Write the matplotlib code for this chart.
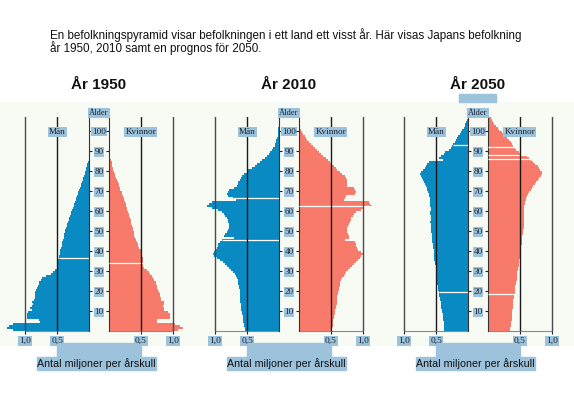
import numpy as np
import matplotlib.pyplot as plt
from matplotlib.patches import Rectangle

plt.rcParams['font.family'] = ['Liberation Sans', 'DejaVu Sans']

# population per one-year age group, millions, age 0 first
men_1950 = [1.20, 1.28, 1.26, 1.19, 0.77, 0.78, 0.97, 0.98, 0.98, 0.96,
            0.90, 0.92, 0.90, 0.88, 0.89, 0.86, 0.85, 0.85, 0.84, 0.84,
            0.83, 0.81, 0.80, 0.79, 0.78, 0.75, 0.74, 0.67, 0.60, 0.56,
            0.54, 0.50, 0.49, 0.49, 0.48, 0.48, 0.47, 0.47, 0.46, 0.46,
            0.46, 0.44, 0.43, 0.43, 0.42, 0.41, 0.40, 0.40, 0.39, 0.38,
            0.37, 0.36, 0.35, 0.34, 0.33, 0.32, 0.31, 0.30, 0.29, 0.28,
            0.27, 0.25, 0.24, 0.23, 0.22, 0.21, 0.20, 0.19, 0.18, 0.17,
            0.15, 0.14, 0.13, 0.12, 0.11, 0.10, 0.09, 0.08, 0.07, 0.06,
            0.05, 0.04, 0.03, 0.03, 0.02]
women_1950 = [1.09, 1.16, 1.12, 1.04, 0.75, 0.76, 0.95, 0.96, 0.95, 0.93,
              0.86, 0.87, 0.85, 0.86, 0.87, 0.82, 0.81, 0.80, 0.80, 0.79,
              0.77, 0.76, 0.75, 0.74, 0.73, 0.70, 0.69, 0.67, 0.65, 0.63,
              0.60, 0.55, 0.54, 0.54, 0.53, 0.53, 0.53, 0.52, 0.52, 0.51,
              0.50, 0.47, 0.46, 0.45, 0.44, 0.42, 0.41, 0.40, 0.40, 0.39,
              0.38, 0.37, 0.36, 0.35, 0.35, 0.34, 0.33, 0.32, 0.31, 0.30,
              0.29, 0.28, 0.27, 0.26, 0.25, 0.24, 0.23, 0.22, 0.21, 0.20,
              0.18, 0.17, 0.16, 0.15, 0.14, 0.12, 0.11, 0.10, 0.09, 0.08,
              0.07, 0.06, 0.05, 0.04, 0.04, 0.03, 0.02, 0.02]

men_2010 = [0.54, 0.54, 0.55, 0.55, 0.56, 0.56, 0.57, 0.57, 0.58, 0.58,
            0.59, 0.59, 0.60, 0.60, 0.61, 0.61, 0.61, 0.62, 0.62, 0.62,
            0.62, 0.63, 0.63, 0.64, 0.64, 0.65, 0.66, 0.67, 0.69, 0.72,
            0.75, 0.78, 0.82, 0.85, 0.88, 0.93, 0.97, 1.02, 1.04, 1.02,
            1.00, 0.97, 0.96, 0.95, 0.93, 0.90, 0.70, 0.86, 0.84, 0.82,
            0.80, 0.78, 0.78, 0.79, 0.80, 0.80, 0.82, 0.85, 0.87, 0.90,
            0.95, 1.05, 1.13, 1.10, 1.05, 0.68, 0.72, 0.80, 0.81, 0.80,
            0.78, 0.70, 0.66, 0.65, 0.64, 0.62, 0.60, 0.58, 0.55, 0.50,
            0.48, 0.42, 0.38, 0.34, 0.30, 0.26, 0.22, 0.19, 0.16, 0.14,
            0.11, 0.09, 0.07, 0.06, 0.05, 0.04, 0.03, 0.02, 0.02, 0.01,
            0.01, 0.01]
women_2010 = [0.52, 0.52, 0.53, 0.53, 0.54, 0.54, 0.55, 0.55, 0.56, 0.56,
              0.57, 0.58, 0.58, 0.59, 0.59, 0.59, 0.60, 0.60, 0.61, 0.62,
              0.63, 0.63, 0.64, 0.64, 0.65, 0.66, 0.68, 0.70, 0.72, 0.74,
              0.77, 0.80, 0.83, 0.86, 0.89, 0.92, 0.95, 0.98, 1.00, 0.97,
              0.93, 0.91, 0.90, 0.89, 0.88, 0.72, 0.79, 0.78, 0.77, 0.76,
              0.76, 0.76, 0.77, 0.78, 0.80, 0.82, 0.82, 0.84, 0.86, 0.90,
              0.97, 1.02, 1.14, 1.12, 1.10, 0.70, 0.72, 0.74, 0.88, 0.90,
              0.88, 0.86, 0.76, 0.75, 0.75, 0.75, 0.74, 0.72, 0.68, 0.65,
              0.60, 0.58, 0.55, 0.52, 0.48, 0.45, 0.42, 0.38, 0.35, 0.32,
              0.28, 0.25, 0.22, 0.19, 0.16, 0.13, 0.11, 0.09, 0.06, 0.05,
              0.03, 0.02]

men_2050 = [0.37, 0.37, 0.38, 0.38, 0.38, 0.39, 0.39, 0.40, 0.40, 0.41,
            0.41, 0.42, 0.42, 0.42, 0.43, 0.44, 0.44, 0.45, 0.45, 0.46,
            0.47, 0.47, 0.47, 0.48, 0.48, 0.48, 0.49, 0.49, 0.50, 0.50,
            0.50, 0.51, 0.51, 0.52, 0.52, 0.53, 0.53, 0.53, 0.54, 0.54,
            0.54, 0.55, 0.55, 0.55, 0.56, 0.56, 0.57, 0.57, 0.57, 0.58,
            0.58, 0.58, 0.58, 0.58, 0.59, 0.58, 0.58, 0.58, 0.59, 0.59,
            0.58, 0.58, 0.59, 0.59, 0.60, 0.60, 0.60, 0.61, 0.62, 0.63,
            0.64, 0.65, 0.66, 0.68, 0.69, 0.70, 0.72, 0.74, 0.75, 0.74,
            0.70, 0.68, 0.66, 0.64, 0.62, 0.40, 0.45, 0.42, 0.38, 0.36,
            0.30, 0.27, 0.25, 0.23, 0.21, 0.19, 0.17, 0.15, 0.13, 0.11,
            0.09, 0.07, 0.05, 0.04, 0.03, 0.02]
women_2050 = [0.35, 0.35, 0.36, 0.36, 0.36, 0.37, 0.37, 0.37, 0.38, 0.38,
              0.38, 0.39, 0.39, 0.39, 0.40, 0.40, 0.41, 0.41, 0.42, 0.42,
              0.43, 0.43, 0.43, 0.44, 0.44, 0.45, 0.45, 0.45, 0.46, 0.46,
              0.47, 0.47, 0.48, 0.48, 0.49, 0.49, 0.50, 0.50, 0.50, 0.51,
              0.51, 0.52, 0.52, 0.53, 0.53, 0.53, 0.54, 0.54, 0.55, 0.55,
              0.55, 0.56, 0.56, 0.56, 0.57, 0.56, 0.56, 0.57, 0.57, 0.57,
              0.56, 0.57, 0.57, 0.58, 0.58, 0.59, 0.60, 0.61, 0.63, 0.65,
              0.67, 0.69, 0.71, 0.73, 0.75, 0.78, 0.80, 0.83, 0.85, 0.84,
              0.82, 0.80, 0.78, 0.74, 0.70, 0.68, 0.64, 0.62, 0.52, 0.48,
              0.44, 0.42, 0.40, 0.38, 0.36, 0.33, 0.30, 0.28, 0.25, 0.22,
              0.17, 0.15, 0.13, 0.10, 0.08, 0.06, 0.04]

years = [1950, 2010, 2050]
men = [men_1950, men_2010, men_2050]
women = [women_1950, women_2010, women_2050]

# thin white seams that cut across a few bars (age where they sit)
seams_men = [[36.6], [66.6, 45.5], [93.0, 19.6]]
seams_women = [[34.2], [62.6], [91.9, 87.7, 85.7, 18.8]]

age_ticks = np.arange(10, 101, 10)
x_ticks = [0.5, 1.0]
x_ticklabels = ['0,5', '1,0']

intro = ['En befolkningspyramid visar befolkningen i ett land ett visst år. '
         'Här visas Japans befolkning',
         'år 1950, 2010 samt en prognos för 2050.']

blue = '#0a8ac3'
salmon = '#f77a6a'
hilite = '#9cc2dc'
ink = '#1b2433'

W, H = 574, 398
fig = plt.figure(figsize=(W / 100, H / 100), dpi=100)


def px_axes(left, top, width, height):
    return fig.add_axes([left / W, 1 - (top + height) / H, width / W, height / H])


def px_rect(x0, y0, x1, y1, color):
    fig.patches.append(Rectangle((x0 / W, 1 - y1 / H), (x1 - x0) / W, (y1 - y0) / H,
                                 transform=fig.transFigure, color=color, zorder=-1))


# light panel background
px_rect(0, 102, W, 345, '#f8faf4')

for j, line in enumerate(intro):
    fig.text(50 / W, 1 - (39 + 13 * j) / H, line, fontsize=8.4, va='baseline', color='#111')

male_x = [89, 279, 468]
gap = 20
scale = 63.7          # pixels per million
ax_top, ax_bot = 116.6, 331.4
ymax = 107
xmax = 1.38

for i, year in enumerate(years):
    mx = male_x[i]
    cx = mx + gap / 2
    fig.text(cx / W, 1 - 89 / H, 'År %d' % year, fontsize=11, fontweight='bold',
             ha='center', va='baseline', color='#111')

    ax_m = px_axes(mx - xmax * scale, ax_top, xmax * scale, ax_bot - ax_top)
    ax_f = px_axes(mx + gap, ax_top, xmax * scale, ax_bot - ax_top)

    for ax, vals, col, seams in [(ax_m, men[i], blue, seams_men[i]),
                                 (ax_f, women[i], salmon, seams_women[i])]:
        ages = np.arange(len(vals))
        ax.barh(ages, vals, height=1.0, align='edge', color=col, zorder=2)
        for s in seams:
            ax.hlines(s, 0, vals[int(s)], color='white', lw=0.9, zorder=3)
        ax.axvline(0.5, color='#1a1a1a', lw=1, zorder=4)
        ax.axvline(1.0, color='#4a4a4a', lw=1, zorder=4)
        ax.set_xlim(0, xmax)
        ax.set_ylim(0, ymax)
        ax.patch.set_visible(False)
        ax.spines['top'].set_visible(False)
        ax.spines['bottom'].set_bounds(0, 1.0)
        ax.spines['bottom'].set_color('#8a8a8a')
        ax.spines['bottom'].set_zorder(1)
        ax.set_xticks(x_ticks, labels=x_ticklabels)
        ax.tick_params(axis='x', length=2, pad=2, labelsize=6.8, colors=ink)
        plt.setp(ax.get_xticklabels(), family='Liberation Serif',
                 bbox=dict(facecolor=hilite, edgecolor='none', pad=0.8))
        ax.set_yticks(age_ticks)

    ax_m.invert_xaxis()
    ax_m.spines['left'].set_visible(False)
    ax_m.spines['right'].set_color('#333')
    ax_m.yaxis.tick_right()
    ax_m.tick_params(axis='y', direction='out', length=2, pad=5.2, labelsize=6.6, colors=ink)
    plt.setp(ax_m.get_yticklabels(), ha='center', family='Liberation Serif',
             bbox=dict(facecolor=hilite, edgecolor='none', pad=0.6))

    ax_f.spines['right'].set_visible(False)
    ax_f.spines['left'].set_color('#333')
    ax_f.tick_params(axis='y', direction='out', length=2, labelleft=False, colors=ink)

    ax_m.text(0.5, 99.3, 'Män', ha='center', va='center', fontsize=6.6,
              family='Liberation Serif', color=ink, zorder=5,
              bbox=dict(facecolor=hilite, edgecolor='none', pad=0.8))
    ax_f.text(0.5, 99.3, 'Kvinnor', ha='center', va='center', fontsize=6.6,
              family='Liberation Serif', color=ink, zorder=5,
              bbox=dict(facecolor=hilite, edgecolor='none', pad=0.8))

    fig.text(cx / W, 1 - 113 / H, 'Ålder', ha='center', va='center', fontsize=6,
             family='Liberation Serif', color=ink,
             bbox=dict(facecolor=hilite, edgecolor='none', pad=0.6))

    # highlight boxes round the axis title
    px_rect(mx - 0.5 * scale, 343, mx + gap + 0.5 * scale, 357, hilite)
    px_rect(cx - 62, 357, cx + 57, 369.5, hilite)
    fig.text((cx - 3) / W, 1 - 364 / H, 'Antal miljoner per årskull', ha='center',
             va='center', fontsize=7.7, color='#111')

px_rect(459, 94, 496, 102, hilite)

fig.savefig('out.png', dpi=100)
